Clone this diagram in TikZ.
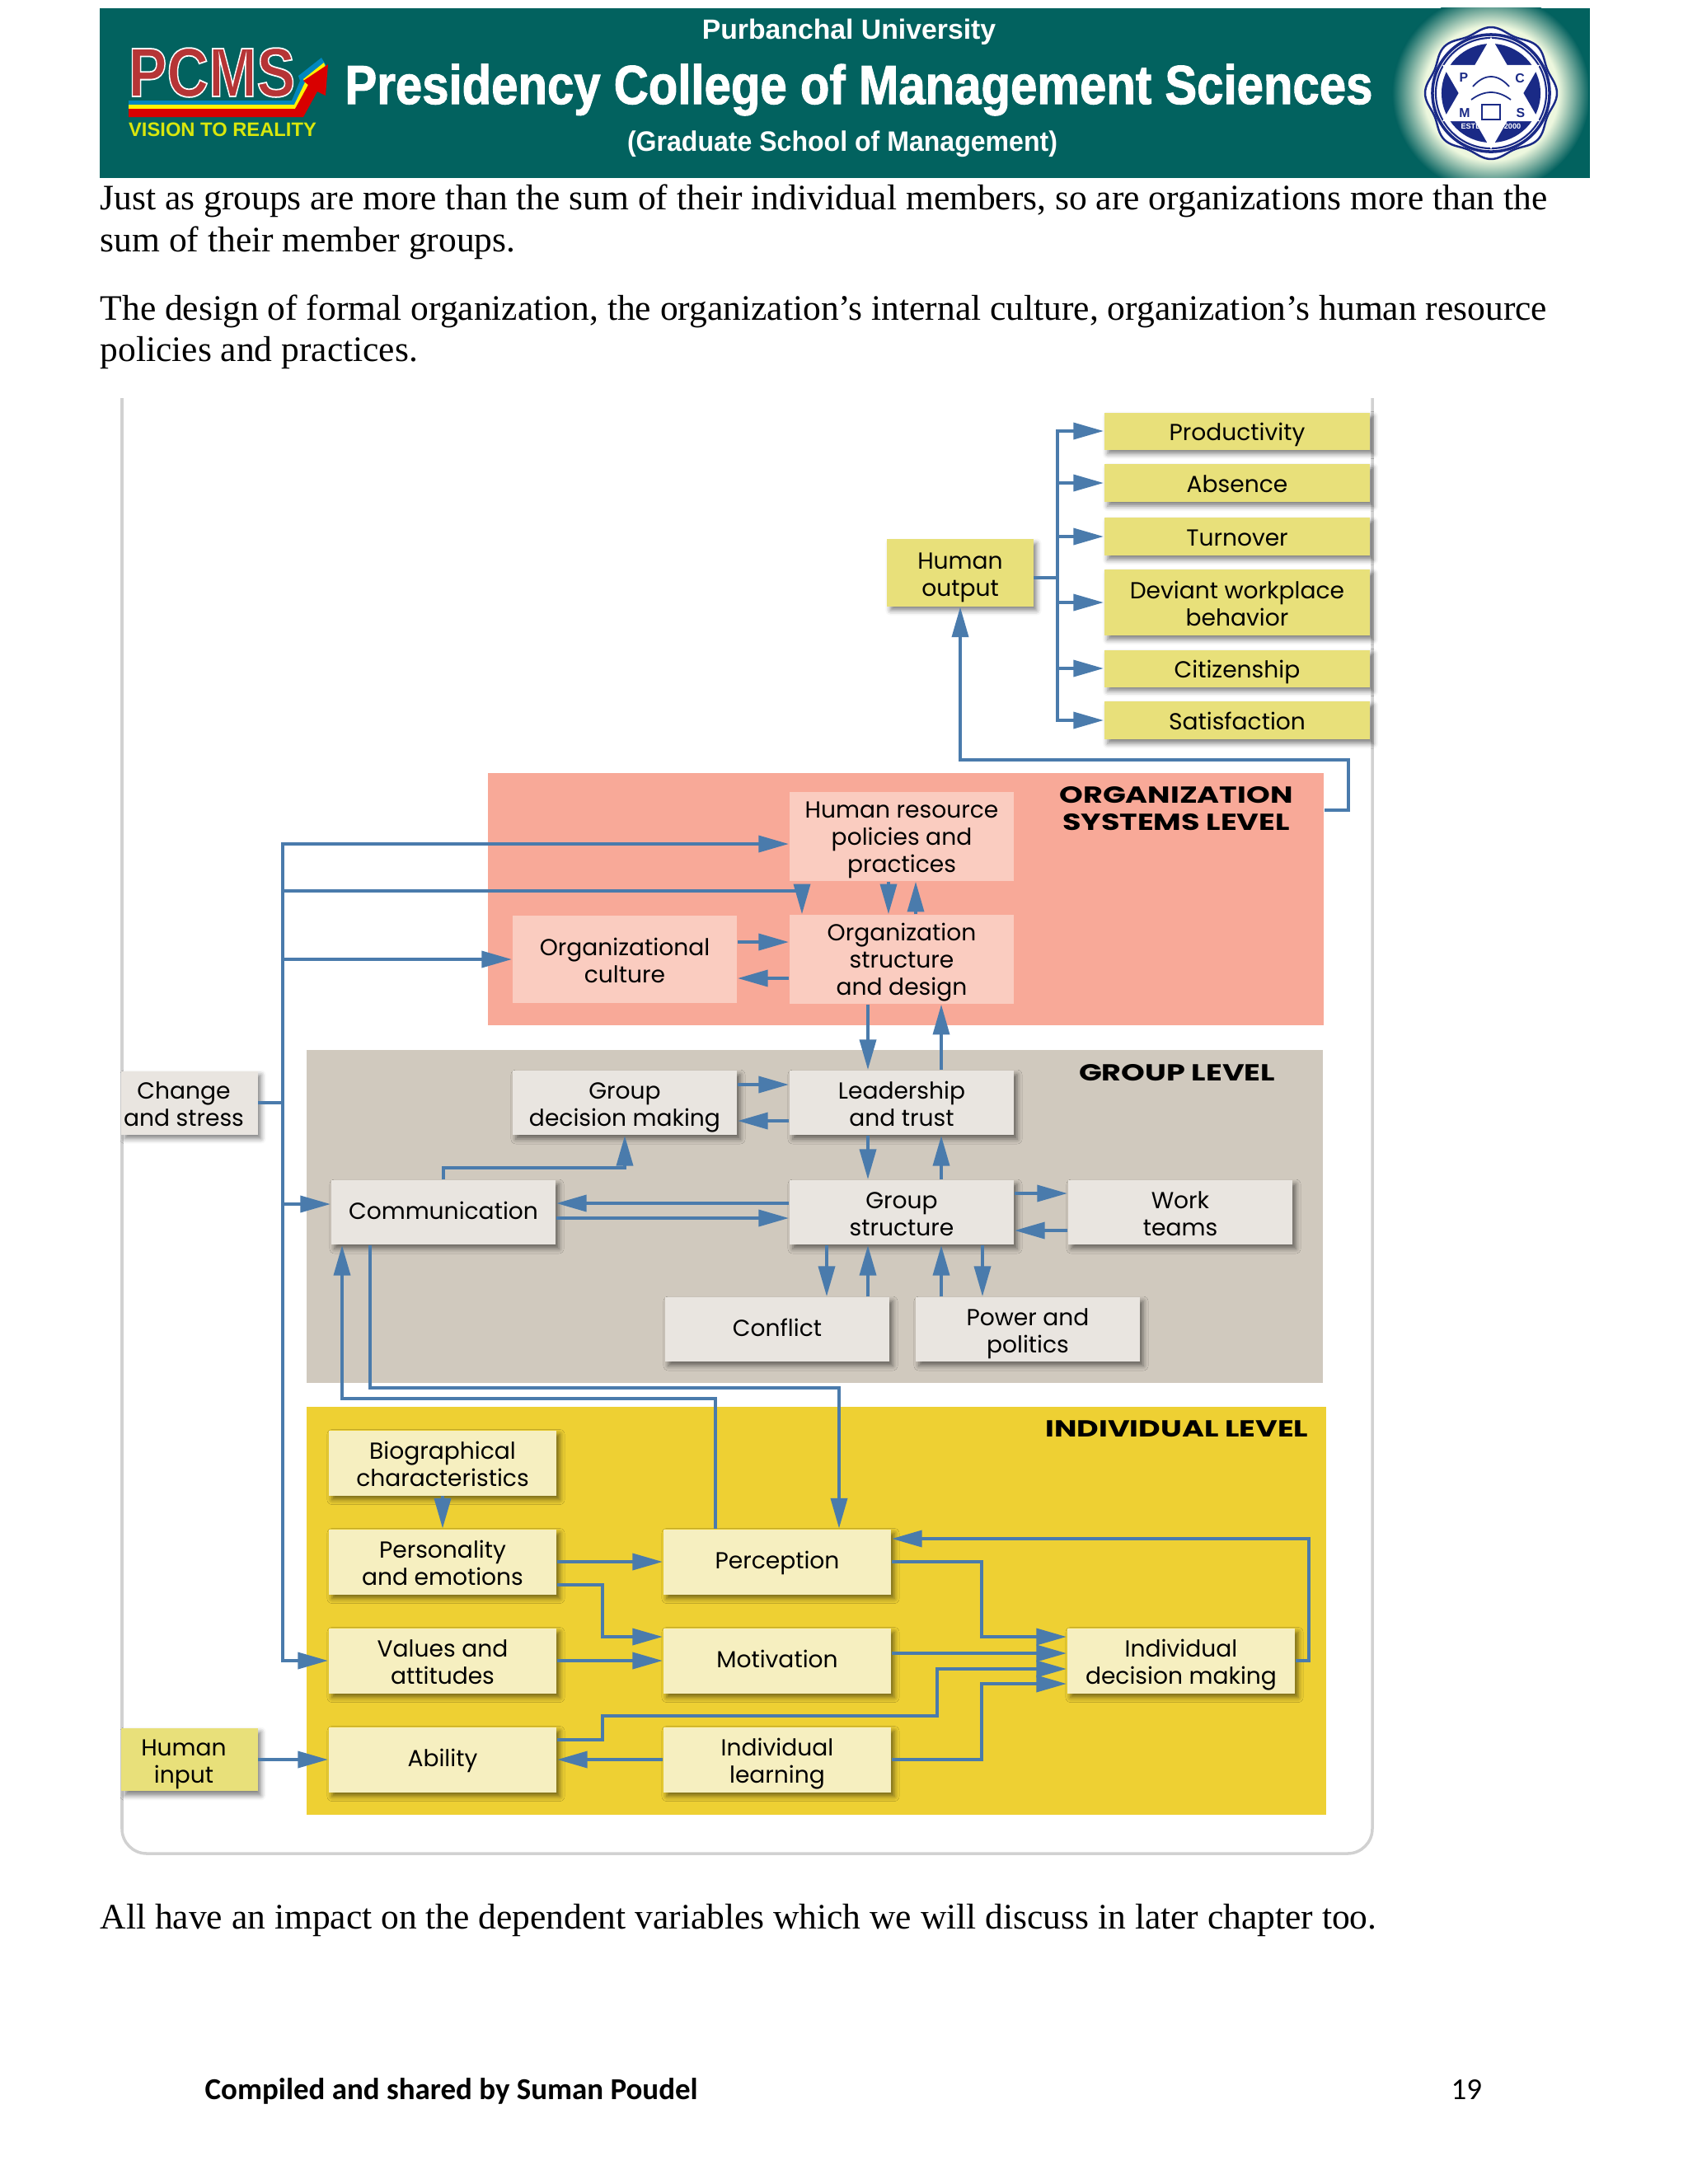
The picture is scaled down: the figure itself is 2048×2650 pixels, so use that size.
\documentclass[tikz,border=0pt]{standalone}
\usepackage{fontspec}
\usepackage{tikz}
\usetikzlibrary{arrows.meta}
\usetikzlibrary{shadows.blur}
\setmainfont{Liberation Serif}
\newfontfamily\diagfont{Poppins}
\newfontfamily\levelfont[FakeStretch=1.3]{Poppins}
\newfontfamily\headfont{Liberation Sans}
\newfontfamily\titlefont[FakeStretch=0.87,FakeBold=1.5]{Liberation Sans Bold}
\newfontfamily\footfont{Carlito}
\definecolor{bannerteal}{HTML}{02625F}
\definecolor{flowblue}{HTML}{4A7BAC}
\definecolor{sealnavy}{HTML}{1A2A86}
\definecolor{orgpanelc}{HTML}{F8A998}
\definecolor{orgboxc}{HTML}{FACCC0}
\definecolor{grouppanelc}{HTML}{D0C9BE}
\definecolor{groupboxc}{HTML}{E9E5E0}
\definecolor{indpanelc}{HTML}{EED033}
\definecolor{indboxc}{HTML}{F6EFC0}
\definecolor{outputc}{HTML}{E8E07A}
\definecolor{logored}{HTML}{B63536}
\pgfdeclareradialshading{sealglow}{\pgfpointorigin}{rgb(0bp)=(0.93,0.97,0.87); rgb(17bp)=(0.93,0.97,0.87); rgb(25bp)=(0.01,0.38,0.37); rgb(50bp)=(0.01,0.38,0.37)}
\tikzset{flow/.style = {draw=flowblue, line width=1.3pt,
                        -{Triangle[length=10.5pt, width=5.6pt]}},
         box/.style = {inner sep=0pt, align=center,
                       font=\diagfont\fontsize{8}{9.4}\selectfont,
                       execute at begin node={\rule{0pt}{9.46pt}},
                       execute at end node={\rule[-2.82pt]{0pt}{2.82pt}},
                       minimum width=2.72cm, minimum height=0.78cm},
         oneline/.style = {execute at end node={\rule[-4.74pt]{0pt}{4.74pt}}},
         twolines/.style = {execute at begin node={\rule{0pt}{19pt}}},
         threelines/.style = {execute at begin node={\rule{0pt}{27.8pt}}},
         shadowed/.style = {blur shadow={shadow xshift=0.04cm, shadow yshift=-0.05cm,
                                         shadow blur radius=0.06cm, shadow opacity=50}},
         output/.style = {box, fill=outputc, shadowed},
         orgbox/.style = {box, fill=orgboxc, minimum height=1.06cm},
         groupbox/.style = {box, fill=groupboxc, shadowed},
         indbox/.style = {box, fill=indboxc, shadowed, minimum width=2.76cm, minimum height=0.79cm},
         panel/.style = {inner sep=0pt, anchor=north west},
         level/.style = {inner sep=0pt, align=center,
                         font=\levelfont\bfseries\fontsize{8}{9.4}\selectfont},
         bodytext/.style = {inner sep=0pt, anchor=base west, font=\fontsize{12.37}{14}\selectfont},
         bannertext/.style = {inner sep=0pt, text=white, font=\headfont\bfseries}}

\begin{document}
\begin{tikzpicture}[x=0.01cm, y=-0.01cm]
    \useasboundingbox (0, 0) rectangle (2048, 2650);

    \node (banner) at (120, 9) [panel, fill=bannerteal, minimum width=18.07cm, minimum height=2.06cm] {};
    \node (university) at (1030, 39) [bannertext] {\fontsize{9.6}{11}\selectfont Purbanchal University};
    \node (college) at (1042, 109) [inner sep=0pt, text=white, font=\titlefont\fontsize{19}{22}\selectfont] {Presidency College of Management Sciences};
    \node (school) at (1022, 175) [bannertext] {\fontsize{9.7}{11}\selectfont\scalebox{0.94}[1]{(Graduate School of Management)}};

    \fill [blue!30!cyan!75!black] (156, 122) -- (354, 122) -- (364, 98) -- (362, 92) -- (390, 70) -- (396, 80) -- (368, 104) -- (358, 130) -- (156, 130) -- cycle;
    \fill [yellow] (156, 127) -- (357, 127) -- (370, 100) -- (368, 96) -- (393, 76) -- (396, 84) -- (374, 103) -- (361, 133) -- (156, 133) -- cycle;
    \fill [red!85!black] (156, 132) -- (358, 132) -- (374, 103) -- (368, 98) -- (398, 78) -- (395, 116) -- (385, 111) -- (368, 142) -- (156, 142) -- cycle;
    \node (pcms) at (257, 88) [inner sep=0pt, font=\headfont\bfseries\fontsize{24}{26}\selectfont] {\special{pdf:code q}\textcolor{logored}{\special{pdf:code 2 Tr 0.5 w 1 1 1 RG}\scalebox{0.83}[1]{PCMS}}\special{pdf:code Q}};
    \node (vision) at (270, 157) [inner sep=0pt, text=yellow!85!green, font=\headfont\bfseries\fontsize{6.75}{8}\selectfont] {VISION TO REALITY};

    \begin{scope}
        \clip (120, 9) rectangle (1927, 215);
        \shade [shading=sealglow] (1809, 113) circle (1.2cm);
    \end{scope}
    \begin{scope}[shift={(1809, 113)}]
        \draw [sealnavy, fill=white, line width=0.7pt] plot [samples=145, domain=0:360] (\x:{77+3*cos(8*\x)}) -- cycle;
        \draw [sealnavy, line width=1pt] (0, 0) circle (0.71cm);
        \draw [sealnavy, line width=0.6pt] (0, 0) circle (0.67cm);
        \fill [sealnavy] (0, 0) circle (0.6cm);
        \fill [white] (90:0.68cm) -- (210:0.68cm) -- (330:0.68cm) -- cycle;
        \fill [white] (270:0.68cm) -- (30:0.68cm) -- (150:0.68cm) -- cycle;
        \draw [sealnavy, line width=0.5pt] (-24, 8) .. controls (-8, -4) and (8, -4) .. (24, 8);
        \draw [sealnavy, line width=0.5pt] (-22, -8) .. controls (-8, -24) and (8, -24) .. (22, -8);
        \draw [sealnavy, line width=0.6pt] (-11, 14) rectangle (11, 32);
    \end{scope}
    \foreach \letter/\xpos/\ypos in {P/1776/94, C/1844/95, M/1777/137, S/1845/137} {
        \node (seal\letter) at (\xpos, \ypos) [inner sep=0pt, text=sealnavy, font=\headfont\bfseries\fontsize{4.5}{5}\selectfont] {\letter};
    }
    \node (sealestd) at (1786, 153) [inner sep=0pt, text=white, font=\headfont\bfseries\fontsize{2.6}{3}\selectfont] {ESTD.};
    \node (sealyear) at (1835, 153) [inner sep=0pt, text=white, font=\headfont\bfseries\fontsize{2.6}{3}\selectfont] {2000};

    \node (introa) at (121, 254) [bodytext] {Just as groups are more than the sum of their individual members, so are organizations more than the};
    \node (introb) at (121, 305) [bodytext] {sum of their member groups.};
    \node (introc) at (121, 388) [bodytext] {The design of formal organization, the organization’s internal culture, organization's human resource};
    \node (introd) at (121, 438) [bodytext] {policies and practices.};

    \draw [black!18, line width=1pt, rounded corners=0.3cm] (148, 483) -- (148, 2249) -- (1665, 2249) -- (1665, 483);

    \node (orgpanel) at (591, 937) [panel, fill=orgpanelc, minimum width=10.14cm, minimum height=3.06cm] {};
    \node (grouppanel) at (371, 1273) [panel, fill=grouppanelc, minimum width=12.33cm, minimum height=4.04cm] {};
    \node (indpanel) at (371, 1706) [panel, fill=indpanelc, minimum width=12.37cm, minimum height=4.95cm] {};

    \node (orglabel) at (1427, 981) [level] {ORGANIZATION\\SYSTEMS LEVEL};
    \node (grouplabel) at (1428, 1302) [level] {GROUP LEVEL};
    \node (indlabel) at (1428, 1734) [level] {INDIVIDUAL LEVEL};

    \node (productivity) at (1501, 523) [output, minimum width=3.22cm, minimum height=0.45cm] {Productivity};
    \node (absence) at (1501, 586) [output, minimum width=3.22cm, minimum height=0.46cm] {Absence};
    \node (turnover) at (1501, 651) [output, minimum width=3.22cm, minimum height=0.46cm] {Turnover};
    \node (deviant) at (1501, 731) [output, twolines, minimum width=3.22cm, minimum height=0.8cm] {Deviant workplace\\behavior};
    \node (citizenship) at (1501, 811) [output, minimum width=3.22cm, minimum height=0.45cm] {Citizenship};
    \node (satisfaction) at (1501, 874) [output, minimum width=3.22cm, minimum height=0.46cm] {Satisfaction};
    \node (humanoutput) at (1165, 695) [output, twolines, minimum width=1.77cm, minimum height=0.81cm] {Human\\output};

    \node (hrpolicies) at (1094, 1015) [orgbox, threelines] {Human resource\\policies and\\practices};
    \node (orgstructure) at (1094, 1164) [orgbox, threelines] {Organization\\structure\\and design};
    \node (orgculture) at (758, 1164) [orgbox, twolines] {Organizational\\culture};

    \node (change) at (230, 1338) [groupbox, twolines, minimum width=1.65cm, minimum height=0.77cm] {Change\kern0.14cm\\and stress\kern0.14cm};
    \node (groupdecision) at (758, 1338) [groupbox, twolines] {Group\\decision making};
    \node (leadership) at (1094, 1338) [groupbox, twolines] {Leadership\\and trust};
    \node (communication) at (538, 1471) [groupbox, oneline] {Communication};
    \node (groupstructure) at (1094, 1471) [groupbox, twolines] {Group\\structure};
    \node (workteams) at (1432, 1471) [groupbox, twolines] {Work\\teams};
    \node (conflict) at (943, 1613) [groupbox, oneline] {Conflict};
    \node (power) at (1247, 1613) [groupbox, twolines] {Power and\\politics};

    \node (biographical) at (537, 1775) [indbox, twolines] {Biographical\\characteristics};
    \node (personality) at (537, 1895) [indbox, twolines] {Personality\\and emotions};
    \node (values) at (537, 2015) [indbox, twolines] {Values and\\attitudes};
    \node (ability) at (537, 2135) [indbox, oneline] {Ability};
    \node (perception) at (943, 1895) [indbox, oneline] {Perception};
    \node (motivation) at (943, 2015) [indbox, oneline] {Motivation};
    \node (learning) at (943, 2135) [indbox, twolines] {Individual\\learning};
    \node (inddecision) at (1433, 2015) [indbox, twolines] {Individual\\decision making};
    \node (humaninput) at (230, 2135) [output, twolines, minimum width=1.65cm, minimum height=0.76cm] {Human\kern0.14cm\\input\kern0.14cm};

    \foreach \target in {productivity, absence, turnover, deviant, citizenship, satisfaction} {
        \draw [flow] (humanoutput.east |- 0, 701) -- (1283, 701) |- (\target.west);
    }
    \draw [flow] (orgpanel.east |- 0, 983) -- (1636, 983) -- (1636, 922) -- (1165, 922) -- (humanoutput.south);

    \draw [flow] (change.east) -- (343, 1338) |- (hrpolicies.west |- 0, 1024);
    \draw [flow] (change.east) -- (343, 1338) |- (973, 1081) -- (orgstructure.north -| 973, 0);
    \draw [flow] (change.east) -- (343, 1338) |- (orgculture.west);
    \draw [flow] (change.east) -- (343, 1338) |- (communication.west |- 0, 1461);
    \draw [flow] (change.east) -- (343, 1338) |- (values.west);

    \draw [flow] (hrpolicies.south -| 1078, 0) -- (orgstructure.north -| 1078, 0);
    \draw [flow] (orgstructure.north -| 1111, 0) -- (hrpolicies.south -| 1111, 0);
    \draw [flow] (orgculture.east |- 0, 1143) -- (orgstructure.west |- 0, 1143);
    \draw [flow] (orgstructure.west |- 0, 1187) -- (orgculture.east |- 0, 1187);
    \draw [flow] (orgstructure.south -| 1053, 0) -- (leadership.north -| 1053, 0);
    \draw [flow] (leadership.north -| 1142, 0) -- (orgstructure.south -| 1142, 0);

    \draw [flow] (groupdecision.east |- 0, 1316) -- (leadership.west |- 0, 1316);
    \draw [flow] (leadership.west |- 0, 1360) -- (groupdecision.east |- 0, 1360);
    \draw [flow] (leadership.south -| 1053, 0) -- (groupstructure.north -| 1053, 0);
    \draw [flow] (groupstructure.north -| 1142, 0) -- (leadership.south -| 1142, 0);
    \draw [flow] (communication.north) -- (538, 1417) -| (groupdecision.south);
    \draw [flow] (groupstructure.west |- 0, 1460) -- (communication.east |- 0, 1460);
    \draw [flow] (communication.east |- 0, 1478) -- (groupstructure.west |- 0, 1478);
    \draw [flow] (groupstructure.east |- 0, 1448) -- (workteams.west |- 0, 1448);
    \draw [flow] (workteams.west |- 0, 1493) -- (groupstructure.east |- 0, 1493);
    \draw [flow] (groupstructure.south -| 1003, 0) -- (conflict.north -| 1003, 0);
    \draw [flow] (conflict.north -| 1053, 0) -- (groupstructure.south -| 1053, 0);
    \draw [flow] (power.north -| 1142, 0) -- (groupstructure.south -| 1142, 0);
    \draw [flow] (groupstructure.south -| 1192, 0) -- (power.north -| 1192, 0);

    \draw [flow] (communication.south -| 449, 0) -- (449, 1684) -- (1018, 1684) -- (perception.north -| 1018, 0);
    \draw [flow] (perception.north -| 868, 0) -- (868, 1697) -- (415, 1697) -- (communication.south -| 415, 0);

    \draw [flow] (biographical.south) -- (personality.north);
    \draw [flow] (personality.east) -- (perception.west);
    \draw [flow] (personality.east |- 0, 1923) -- (731, 1923) -- (731, 1986) -- (motivation.west |- 0, 1986);
    \draw [flow] (values.east) -- (motivation.west);
    \draw [flow] (perception.east) -- (1191, 1895) -- (1191, 1986) -- (inddecision.west |- 0, 1986);
    \draw [flow] (motivation.east |- 0, 2006) -- (inddecision.west |- 0, 2006);
    \draw [flow] (ability.east |- 0, 2111) -- (731, 2111) -- (731, 2082) -- (1137, 2082) -- (1137, 2025) -- (inddecision.west |- 0, 2025);
    \draw [flow] (learning.east) -- (1191, 2135) -- (1191, 2043) -- (inddecision.west |- 0, 2043);
    \draw [flow] (learning.west) -- (ability.east);
    \draw [flow] (humaninput.east) -- (ability.west);
    \draw [flow] (inddecision.east) -- (1588, 2015) -- (1588, 1867) -- (perception.east |- 0, 1867);

    \node (closing) at (121, 2340) [bodytext] {All have an impact on the dependent variables which we will discuss in later chapter too.};
    \node (credit) at (248, 2547) [inner sep=0pt, anchor=base west, font=\footfont\bfseries\fontsize{10.5}{12}\selectfont] {Compiled and shared by Suman Poudel};
    \node (pagenum) at (1760, 2547) [inner sep=0pt, anchor=base west, font=\footfont\fontsize{10.5}{12}\selectfont] {19};
\end{tikzpicture}
\end{document}
